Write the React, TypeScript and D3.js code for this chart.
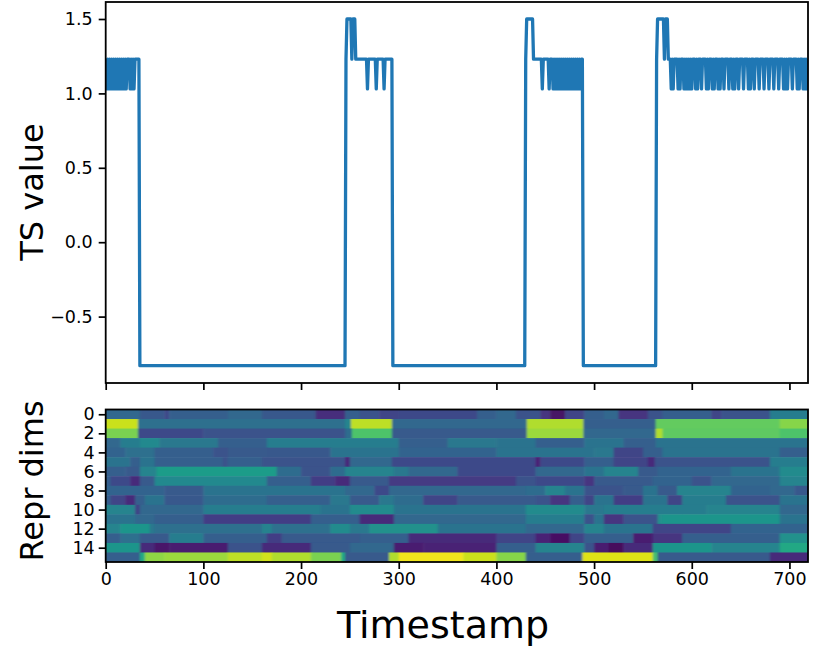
import React, { useRef, useEffect } from 'react';
import * as d3 from 'd3';

// top panel: levels and where the series leaves its resting level
const restLevel = 1.23;
const lowLevel = -0.83;
const dipLevel = 1.03;
const peakLevel = 1.5;
const lowRanges = [[35, 245], [294, 429], [489, 563]];
const peaks = [247, 248, 249, 250, 251, 253, 254, 255, 431, 432, 433, 434, 435, 436, 437, 565, 566, 567, 568, 569, 570, 571, 573, 574, 575];
const dips = [
  1, 3, 5, 7, 9, 11, 13, 15, 17, 19, 21, 25, 27, 29,
  268, 277, 285,
  447, 454, 458, 460, 462, 464, 466, 468, 470, 472, 474, 476, 478, 480, 482, 484, 486,
  579, 581, 586, 588, 592, 594, 596, 598, 600, 604, 606, 610, 615, 617, 621, 623, 627, 629, 633, 638, 642, 644,
  648, 653, 658, 660, 664, 669, 674, 679, 684, 689, 694, 696, 698, 703, 708, 710, 714, 716, 718,
];
const yTicks = [-0.5, 0, 0.5, 1, 1.5];
const xTicks = [0, 100, 200, 300, 400, 500, 600, 700];
const reprTicks = [0, 2, 4, 6, 8, 10, 12, 14];

// bottom panel: each row is a list of [end timestamp, value]
const row0 = [[35, .33], [60, .27], [65, .22], [125, .30], [160, .33], [215, .27], [245, .13], [260, .3], [280, .25], [300, .2], [380, .22], [400, .3], [420, .33], [445, .25], [455, .15], [470, .05], [490, .2], [510, .3], [525, .33], [555, .15], [570, .25], [620, .3], [630, .2], [680, .25], [720, .42]];
const row1 = [[33, .92], [245, .36], [251, .45], [293, .9], [431, .33], [489, .88], [563, .3], [690, .76], [720, .82]];
const row2 = [[33, .8], [100, .22], [245, .25], [252, .35], [293, .72], [431, .28], [489, .85], [563, .33], [570, .88], [690, .75], [720, .72]];
const row3 = [[15, .33], [35, .42], [55, .47], [115, .40], [165, .30], [245, .42], [300, .42], [350, .3], [400, .4], [440, .38], [490, .3], [530, .38], [563, .3], [720, .38]];
const row4 = [[20, .32], [50, .36], [110, .30], [125, .25], [165, .28], [230, .27], [300, .38], [400, .32], [500, .38], [520, .40], [550, .2], [570, .3], [690, .38], [720, .3]];
const row5 = [[25, .38], [35, .3], [50, .38], [120, .30], [125, .25], [160, .3], [245, .25], [250, .12], [293, .33], [440, .22], [445, .1], [490, .22], [520, .3], [555, .2], [562, .12], [680, .25], [720, .42]];
const row6 = [[20, .3], [35, .28], [52, .45], [175, .55], [200, .35], [230, .25], [245, .35], [295, .45], [310, .4], [360, .33], [440, .22], [490, .33], [510, .38], [545, .45], [565, .28], [640, .32], [690, .38], [720, .48]];
const row7 = [[5, .3], [25, .22], [35, .12], [50, .28], [165, .47], [210, .3], [235, .18], [250, .12], [290, .28], [420, .17], [440, .25], [490, .22], [500, .15], [560, .28], [600, .32], [620, .25], [690, .33], [720, .45]];
const row8 = [[60, .32], [100, .28], [245, .38], [275, .33], [290, .22], [430, .33], [450, .35], [470, .45], [490, .38], [530, .25], [550, .28], [565, .38], [585, .28], [640, .45], [680, .32], [705, .33], [720, .27]];
const row9 = [[5, .3], [20, .2], [30, .12], [40, .3], [60, .38], [100, .27], [165, .35], [230, .3], [250, .4], [280, .28], [295, .4], [325, .35], [360, .2], [440, .28], [455, .25], [475, .15], [490, .3], [500, .2], [520, .38], [550, .18], [575, .38], [590, .2], [635, .42], [690, .25], [720, .38]];
const row10 = [[30, .45], [35, .2], [100, .33], [220, .42], [250, .38], [295, .48], [430, .38], [490, .48], [510, .4], [590, .42], [615, .42], [690, .45], [720, .33]];
const row11 = [[30, .38], [50, .33], [100, .3], [210, .18], [260, .3], [295, .12], [430, .33], [490, .42], [500, .25], [510, .38], [530, .15], [565, .25], [570, .5], [690, .52], [720, .38]];
const row12 = [[15, .45], [45, .52], [50, .4], [160, .36], [170, .44], [230, .36], [250, .48], [270, .4], [340, .5], [430, .38], [490, .33], [510, .45], [560, .38], [640, .2], [720, .32]];
const row13 = [[15, .3], [35, .36], [65, .28], [100, .42], [165, .30], [180, .18], [260, .28], [310, .3], [400, .12], [440, .2], [455, .1], [475, .04], [490, .2], [540, .3], [560, .08], [590, .15], [690, .3], [720, .5]];
const row14 = [[35, .52], [50, .12], [65, .06], [125, .08], [160, .25], [210, .12], [250, .28], [295, .33], [325, .08], [400, .1], [440, .3], [490, .45], [500, .25], [515, .08], [530, .02], [560, .12], [620, .52], [690, .45], [720, .6]];
const row15 = [[35, .3], [40, .6], [60, .83], [125, .85], [160, .9], [170, .93], [210, .88], [241, .8], [245, .6], [290, .28], [300, .88], [366, .98], [400, .92], [430, .82], [488, .3], [560, .95], [565, .7], [680, .28], [720, .12]];
const reprRows = [row0, row1, row2, row3, row4, row5, row6, row7, row8, row9, row10, row11, row12, row13, row14, row15];

const width = 830;
const height = 648;
const left = 105.7;
const right = 808;

const App = () => {
  const svgEl = useRef<SVGSVGElement>(null);

  useEffect(() => {
    const svg = d3.select(svgEl.current);
    svg.selectAll('*').remove();

    const values = d3.range(0, 720).map(t => {
      if (lowRanges.some(r => t >= r[0] && t <= r[1])) return lowLevel;
      if (peaks.includes(t)) return peakLevel;
      if (dips.includes(t)) return dipLevel;
      return restLevel;
    });

    const x = d3.scaleLinear().domain([0, 719]).range([left, right]);
    const y = d3.scaleLinear().domain([1.5, -0.5]).range([19, 316.6]);
    const top = { y0: 2, y1: 383 };
    const bottom = { y0: 409.5, y1: 562 };
    const rowY = d3.scaleBand<number>().domain(d3.range(16)).range([bottom.y0, bottom.y1]);
    const color = d3.scaleSequential(d3.interpolateViridis).domain([0, 1]);

    const defs = svg.append('defs');
    defs.append('clipPath').attr('id', 'top-clip')
      .append('rect').attr('x', left).attr('y', top.y0).attr('width', right - left).attr('height', top.y1 - top.y0);
    defs.append('clipPath').attr('id', 'heat-clip')
      .append('rect').attr('x', left).attr('y', bottom.y0).attr('width', right - left).attr('height', bottom.y1 - bottom.y0);
    defs.append('filter').attr('id', 'soft')
      .attr('filterUnits', 'userSpaceOnUse').attr('x', 0).attr('y', 380).attr('width', width).attr('height', 220)
      .append('feGaussianBlur').attr('stdDeviation', '1.3 0.6');

    const line = d3.line<number>().x((d, i) => x(i)).y(d => y(d));
    svg.append('g').attr('clip-path', 'url(#top-clip)')
      .append('path').datum(values)
      .attr('d', line)
      .attr('fill', 'none')
      .attr('stroke', '#1f77b4')
      .attr('stroke-width', 3.3)
      .attr('stroke-linejoin', 'round');

    // bleed the outer cells a little so the blur has no pale edge
    const bleed = 4;
    const cells = svg.append('g').attr('clip-path', 'url(#heat-clip)')
      .append('g').attr('filter', 'url(#soft)');
    reprRows.forEach((row, r) => {
      let start = 0;
      row.forEach(([end, v]) => {
        const x0 = start === 0 ? x(0) - bleed : x(start);
        const x1 = end === 720 ? x(719) + bleed : x(end);
        const y0 = r === 0 ? rowY(r)! - bleed : rowY(r)!;
        const y1 = rowY(r)! + rowY.bandwidth() + (r === 15 ? bleed : 0);
        cells.append('rect')
          .attr('x', x0).attr('y', y0)
          .attr('width', x1 - x0 + 0.5).attr('height', y1 - y0 + 0.5)
          .attr('fill', color(v));
        start = end;
      });
    });

    const tickStyle = (g: any, size: number) => {
      g.selectAll('text').attr('font-family', '"DejaVu Sans"').attr('font-size', size).attr('fill', '#000');
      g.selectAll('line').attr('stroke', '#000').attr('stroke-width', 1.7);
      g.select('.domain').remove();
    };

    svg.append('g').attr('transform', `translate(${left},0)`)
      .call(d3.axisLeft(y).tickValues(yTicks).tickSize(7).tickPadding(6)
        .tickFormat(d => (d3.format('.1f')(d as number)).replace('-', '\u2212')))
      .call(tickStyle, 17.5);
    svg.append('g').attr('transform', `translate(0,${top.y1})`)
      .call(d3.axisBottom(x).tickValues(xTicks).tickSize(7).tickFormat(() => ''))
      .call(tickStyle, 17.5);
    svg.append('g').attr('transform', `translate(${left},0)`)
      .call(d3.axisLeft(d3.scaleLinear().domain([0, 15]).range([rowY(0)! + rowY.bandwidth() / 2, rowY(15)! + rowY.bandwidth() / 2]))
        .tickValues(reprTicks).tickSize(7).tickPadding(4).tickFormat(d3.format('d')))
      .call(tickStyle, 17.5);
    svg.append('g').attr('transform', `translate(0,${bottom.y1})`)
      .call(d3.axisBottom(x).tickValues(xTicks).tickSize(7).tickPadding(4).tickFormat(d3.format('d')))
      .call(tickStyle, 17.5);

    [top, bottom].forEach(p => {
      svg.append('rect')
        .attr('x', left).attr('y', p.y0)
        .attr('width', right - left).attr('height', p.y1 - p.y0)
        .attr('fill', 'none').attr('stroke', '#000').attr('stroke-width', 1.8);
    });

    const label = (text: string, px: number, py: number, size: number, rotate = 0) => {
      svg.append('text')
        .attr('transform', `translate(${px},${py}) rotate(${rotate})`)
        .attr('text-anchor', 'middle')
        .attr('font-family', '"DejaVu Sans"')
        .attr('font-size', size)
        .attr('fill', '#000')
        .text(text);
    };
    label('TS value', 43, 192, 32, -90);
    label('Repr dims', 43, 481, 32, -90);
    label('Timestamp', 443, 638, 38);
  }, []);

  return <svg ref={svgEl} width={width} height={height} style={{ position: 'absolute', left: 0, top: 0 }} />;
};

export default App;
